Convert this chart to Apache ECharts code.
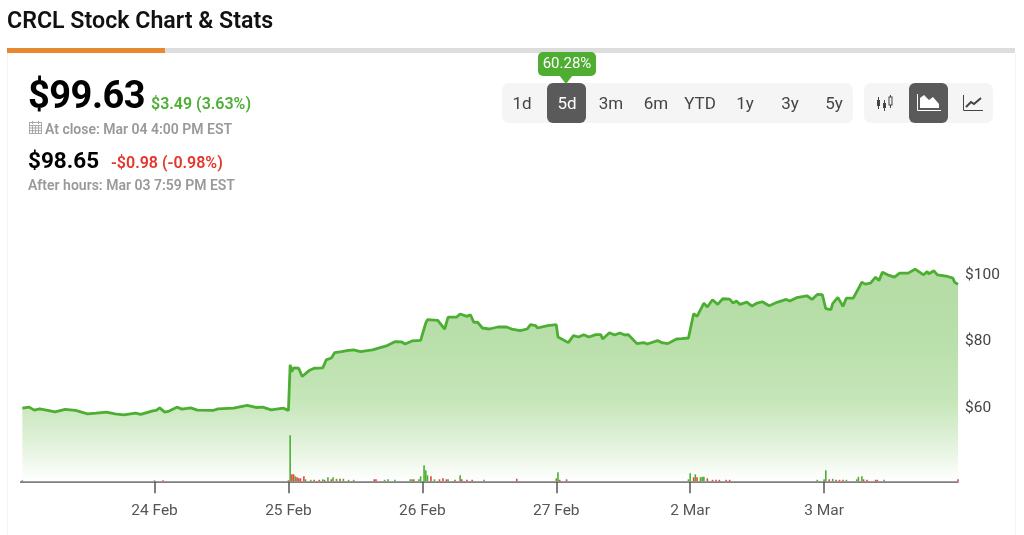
<!DOCTYPE html>
<html lang="en">
<head>
<meta charset="UTF-8">
<title>CRCL Stock Chart &amp; Stats</title>
<script src="https://cdn.jsdelivr.net/npm/echarts@6/dist/echarts.min.js"></script>
<style>
    html, body { margin: 0; padding: 0; background: #fff; font-family: Roboto, sans-serif; }
    #page { position: relative; width: 1024px; height: 535px; overflow: hidden; }
    #main { position: absolute; left: 0; top: 0; width: 1024px; height: 535px; }
    .t { position: absolute; white-space: nowrap; line-height: 1; }
    .box { position: absolute; }
    .btn { position: absolute; top: 83px; height: 40px; line-height: 40px; text-align: center; font-size: 17px; color: #444; transform: translateX(-50%); }
    .on { color: #fff; }
</style>
</head>
<body>
<div id="page">
    <div id="main"></div>
    <div class="t" style="left:7px;top:9px;font-size:23.2px;font-weight:600;color:#111;">CRCL Stock Chart &amp; Stats</div>
    <div class="box" style="left:7px;top:48px;width:158px;height:5px;background:#e5882f;"></div>
    <div class="box" style="left:165px;top:48px;width:850px;height:5px;background:#dddddd;"></div>
    <div class="box" style="left:7px;top:53px;width:1px;height:482px;background:#f4f4f4;"></div>
    <div class="box" style="left:1015px;top:53px;width:1px;height:482px;background:#f4f4f4;"></div>

    <div class="t" style="left:28px;top:76px;font-size:38px;font-weight:700;letter-spacing:-0.5px;color:#000;">$99.63</div>
    <div class="t" style="left:151px;top:96px;font-size:16px;font-weight:600;color:#4caf35;">$3.49 (3.63%)</div>
    <svg class="box" style="left:29px;top:121px;" width="13" height="13" viewBox="0 0 13 13">
        <rect x="0.5" y="1.5" width="12" height="11" fill="none" stroke="#aaa"/>
        <path d="M0 4.5H13M0 7H13M0 9.7H13M3.5 4.5V13M6.5 4.5V13M9.5 4.5V13M3.5 0V3M9.5 0V3" stroke="#aaa" stroke-width="1"/>
    </svg>
    <div class="t" style="left:45px;top:122px;font-size:14px;font-weight:600;color:#999;">At close: Mar 04 4:00 PM EST</div>
    <div class="t" style="left:28px;top:149px;font-size:22.5px;font-weight:700;color:#000;">$98.65</div>
    <div class="t" style="left:111px;top:155px;font-size:16px;font-weight:600;color:#e5362c;">-$0.98 (-0.98%)</div>
    <div class="t" style="left:28px;top:178px;font-size:14px;font-weight:600;color:#999;">After hours: Mar 03 7:59 PM EST</div>

    <div class="box" style="left:502px;top:83px;width:351px;height:40px;background:#f5f5f5;border-radius:7px;"></div>
    <div class="box" style="left:864px;top:83px;width:129px;height:40px;background:#f5f5f5;border-radius:7px;"></div>
    <div class="box" style="left:547px;top:83px;width:39px;height:40px;background:#5a5a5a;border-radius:6px;"></div>
    <div class="box" style="left:909px;top:83px;width:39px;height:40px;background:#5a5a5a;border-radius:6px;"></div>
    <div class="box" style="left:538px;top:52px;width:58px;height:24px;background:#4fae32;border-radius:5px;"></div>
    <svg class="box" style="left:559px;top:75px;" width="14" height="9" viewBox="0 0 14 9"><path d="M0 0H14L7 9Z" fill="#4fae32"/></svg>
    <div class="t" style="left:538px;width:58px;top:56px;text-align:center;font-size:15px;color:#fff;">60.28%</div>

    <div class="btn" style="left:522px;">1d</div>
    <div class="btn on" style="left:567px;">5d</div>
    <div class="btn" style="left:611px;">3m</div>
    <div class="btn" style="left:656px;">6m</div>
    <div class="btn" style="left:700px;">YTD</div>
    <div class="btn" style="left:745px;">1y</div>
    <div class="btn" style="left:790px;">3y</div>
    <div class="btn" style="left:834px;">5y</div>

    <svg class="box" style="left:876px;top:94px;" width="17" height="18" viewBox="0 0 17 18">
        <path d="M2.5 3V15M8.5 6V17M14.5 1V14" stroke="#444" stroke-width="1"/>
        <rect x="1" y="6" width="3" height="6" fill="#444"/>
        <rect x="7" y="9" width="3" height="5" fill="#444"/>
        <rect x="13" y="3" width="3" height="8" fill="#f5f5f5" stroke="#444"/>
    </svg>
    <svg class="box" style="left:917px;top:94px;" width="24" height="18" viewBox="0 0 24 18">
        <path d="M3 14V4L7 1L12 6L16 3L22 10V14Z" fill="#fff"/>
        <path d="M0.5 0V16.5H24" fill="none" stroke="#fff" stroke-width="1"/>
    </svg>
    <svg class="box" style="left:963px;top:95px;" width="20" height="17" viewBox="0 0 20 17">
        <path d="M3 12L8 7L11 9L18 3" fill="none" stroke="#444" stroke-width="2"/>
        <path d="M0.5 0V15.5H20" fill="none" stroke="#444" stroke-width="1"/>
    </svg>
</div>

<script type="text/javascript">
    // x is counted in 5 minute bars from the first open, 78 bars to a session
    var dayTicks = [78, 156, 234, 312, 390, 468];
    var dayLabels = ['24 Feb', '25 Feb', '26 Feb', '27 Feb', '2 Mar', '3 Mar'];
    var priceTicks = [60, 80, 100];

    var priceSlots = [
        1, 5, 8, 11, 15, 20, 26, 32, 39, 44, 50, 55, 60, 67, 70, 77, 79, 81, 84, 86,
        91, 94, 99, 103, 112, 115, 124, 132, 137, 141, 146, 153, 156,
        157, 158, 159, 162, 164, 168, 171, 176, 178, 181, 183, 187, 190, 194, 198, 205, 206,
        213, 218, 222, 224, 228, 233,
        236, 237, 243, 244, 247, 249, 254, 256, 260, 262, 264, 266, 269, 273, 278, 283, 286, 291, 295, 297,
        300, 301, 307, 312,
        313, 319, 322, 325, 328, 331, 335, 338, 339, 343, 346, 349, 352, 354, 359, 363, 365, 371, 374, 377,
        382, 385, 389,
        392, 394, 398, 400, 403, 406, 409, 413, 415, 417, 419, 423, 426, 429, 432, 436, 441, 446, 448, 452,
        458, 461, 464, 467,
        469, 472, 473, 476, 479, 481, 485, 490, 492, 495, 498, 500, 502, 505, 509, 512, 517, 521, 526, 528,
        529, 532, 534, 540, 543, 544, 546
    ];
    var prices = [
        59.6, 59.9, 59.0, 59.4, 59.0, 58.5, 59.2, 58.9, 57.9, 58.1, 58.4, 57.9, 57.6, 58.1, 57.7, 58.8, 58.9, 59.7, 58.4, 58.6,
        59.9, 59.3, 59.7, 59.0, 58.9, 59.4, 59.6, 60.4, 59.8, 59.9, 59.1, 59.6, 58.9,
        72.6, 70.6, 71.7, 71.6, 69.1, 70.9, 71.6, 71.7, 74.1, 74.7, 76.3, 76.6, 76.9, 77.1, 76.6, 77.1, 77.4,
        78.3, 79.6, 79.5, 78.9, 79.8, 80.0,
        85.2, 86.2, 86.0, 85.3, 83.4, 87.0, 87.0, 87.9, 87.2, 87.7, 85.4, 85.5, 83.7, 83.4, 84.0, 84.0, 83.4, 82.9, 83.4, 84.7,
        84.4, 83.7, 84.4, 84.7,
        81.0, 79.3, 81.4, 81.0, 81.7, 81.0, 81.7, 81.7, 80.4, 82.3, 81.6, 82.2, 81.6, 81.7, 79.0, 79.3, 78.9, 79.9, 79.2, 79.0,
        80.4, 80.5, 80.7,
        88.0, 87.2, 91.2, 90.0, 92.2, 90.8, 92.5, 92.4, 91.2, 91.8, 90.8, 91.5, 90.3, 91.2, 91.6, 90.4, 91.5, 92.3, 91.8, 92.8,
        93.4, 92.3, 93.8, 93.7,
        89.5, 89.2, 91.0, 92.9, 90.2, 92.7, 92.7, 97.5, 96.9, 97.2, 99.0, 98.0, 100.5, 99.7, 99.0, 100.2, 100.2, 101.4, 99.7, 100.7,
        100.0, 100.9, 99.7, 99.2, 98.7, 97.5, 96.8
    ];

    // volume in thousands of shares
    var upSlots = [
        1, 78, 157, 160, 166, 169, 176, 179, 182, 184, 188, 191, 194, 212, 214, 218, 227, 228, 232, 233, 235, 236, 237,
        241, 249, 256, 270, 312, 313, 389, 390, 393, 396, 397, 398, 464, 468, 469, 473, 481, 487, 488, 490, 503
    ];
    var upVolumes = [
        20, 20, 920, 100, 40, 30, 40, 80, 80, 50, 50, 30, 30, 30, 40, 30, 40, 40, 40, 100, 320, 220, 120,
        40, 40, 120, 30, 60, 180, 40, 160, 140, 80, 90, 90, 30, 40, 220, 50, 30, 40, 90, 100, 30
    ];
    var downSlots = [
        83, 156, 158, 159, 161, 162, 163, 165, 171, 174, 177, 181, 186, 206, 207, 229, 239, 244, 246, 248, 253, 257,
        260, 263, 289, 314, 318, 392, 394, 400, 403, 405, 407, 411, 413, 471, 475, 477, 479, 491, 493, 498, 499, 546
    ];
    var downVolumes = [
        20, 20, 140, 140, 80, 60, 60, 100, 30, 30, 30, 40, 50, 40, 40, 40, 100, 40, 60, 40, 30, 40,
        30, 30, 50, 30, 40, 80, 80, 60, 30, 30, 30, 30, 30, 40, 30, 30, 30, 40, 30, 30, 30, 40
    ];

    var myChart = echarts.init(document.getElementById('main'));

    function zip(xs, ys) {
        return xs.map(function (x, i) { return [x, ys[i]]; });
    }

    var option = {
        animation: false,
        textStyle: { fontFamily: 'Roboto' },
        grid: { left: 20.6, right: 66, top: 208.3, bottom: 53.7 },
        xAxis: {
            type: 'value',
            min: 0,
            max: 546,
            splitLine: { show: false },
            axisLine: { show: true, onZero: false, lineStyle: { color: '#555', width: 1.5 } },
            axisTick: { show: true, length: 12, customValues: dayTicks, lineStyle: { color: '#555', width: 1.5 } },
            axisLabel: {
                customValues: dayTicks,
                margin: 22,
                fontSize: 15.5,
                color: '#555',
                formatter: function (v) { return dayLabels[dayTicks.indexOf(v)]; }
            }
        },
        yAxis: [
            {
                type: 'value',
                position: 'right',
                min: 37.6,
                max: 119.7,
                splitLine: { show: false },
                axisLine: { show: false },
                axisTick: { show: false },
                axisLabel: {
                    customValues: priceTicks,
                    margin: 7,
                    fontSize: 15.5,
                    color: '#444',
                    verticalAlign: 'top',
                    lineHeight: 2,
                    formatter: '${value}'
                }
            },
            { type: 'value', min: 0, max: 5460, show: false }
        ],
        series: [
            {
                name: 'Price',
                type: 'line',
                data: zip(priceSlots, prices),
                showSymbol: false,
                lineStyle: { color: '#4cae33', width: 2.8 },
                areaStyle: {
                    opacity: 1,
                    color: new echarts.graphic.LinearGradient(0, 0, 0, 1, [
                        { offset: 0, color: '#b4dca4' },
                        { offset: 0.33, color: '#b9dfaa' },
                        { offset: 0.62, color: '#c6e6b9' },
                        { offset: 0.81, color: '#e0f1d9' },
                        { offset: 1, color: '#ffffff' }
                    ])
                }
            },
            {
                name: 'Volume up',
                type: 'bar',
                yAxisIndex: 1,
                z: 4,
                data: zip(upSlots, upVolumes),
                barWidth: 1.6,
                itemStyle: { color: '#4cae33' }
            },
            {
                name: 'Volume down',
                type: 'bar',
                yAxisIndex: 1,
                z: 4,
                barGap: '-100%',
                data: zip(downSlots, downVolumes),
                barWidth: 1.6,
                itemStyle: { color: '#e5433a' }
            }
        ]
    };

    myChart.setOption(option);
</script>
</body>
</html>
